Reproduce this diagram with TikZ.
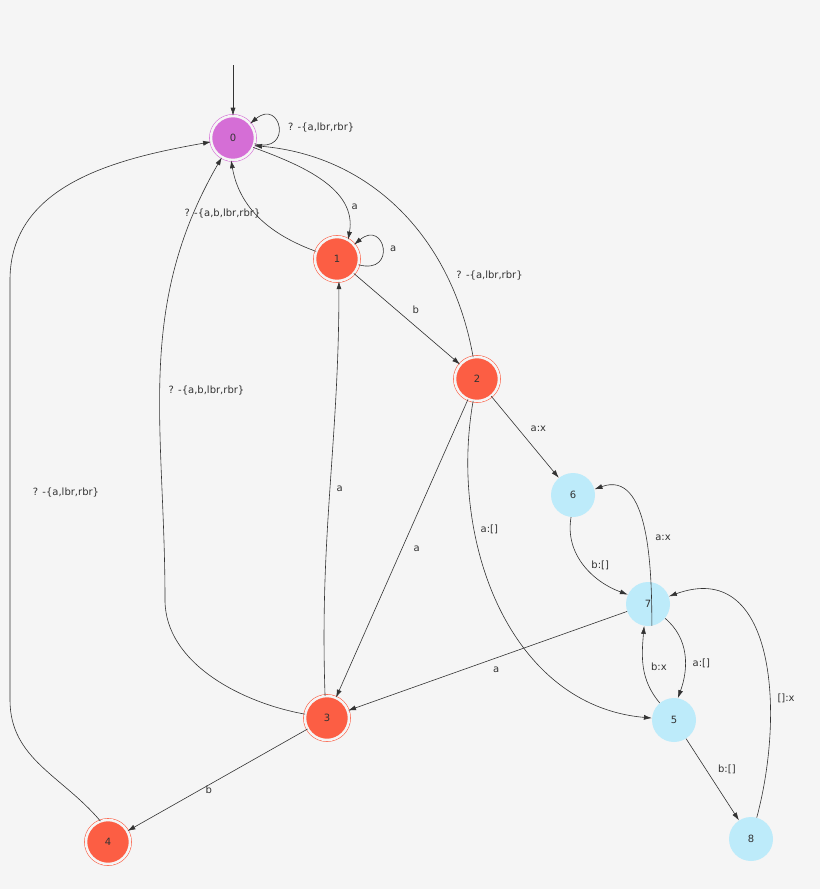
\documentclass[tikz,border=0pt]{standalone}
\usepackage{fontspec}
\setmainfont{DejaVu Sans}
\usetikzlibrary{arrows.meta}
\definecolor{bg}{HTML}{F5F5F5}
\definecolor{pink}{HTML}{D56ED6}
\definecolor{redn}{HTML}{FC5E44}
\definecolor{bluen}{HTML}{BDEBFA}
\definecolor{txt}{HTML}{333333}
\begin{document}
\begin{tikzpicture}[x=1pt,y=-1pt,
  st/.style={circle,minimum size=44pt,inner sep=0pt,text=txt,font=\fontsize{10}{12}\selectfont},
  acc/.style={st,double distance=2.5pt,draw=#1,fill=#1,double=bg,line width=0.6pt},
  plain/.style={st,fill=bluen},
  e/.style={draw=black!80,line width=0.6pt,-{Latex[length=8pt,width=5pt]}},
  lb/.style={text=txt,font=\fontsize{10}{12}\selectfont}]
\fill[bg] (0,0) rectangle (820,889);
\useasboundingbox (0,0) rectangle (820,889);
\node[acc=pink,minimum size=44pt] (n0) at (233,138) {0};
\node[acc=redn] (n1) at (337,259) {1};
\node[acc=redn] (n2) at (477,379) {2};
\node[acc=redn] (n3) at (327,718) {3};
\node[acc=redn] (n4) at (108,842) {4};
\node[plain] (n5) at (674,720) {5};
\node[plain] (n6) at (573,495) {6};
\node[plain] (n7) at (648,604) {7};
\node[plain] (n8) at (751,839) {8};
\coordinate (init) at (233,65);
\draw[e] (init) -- (n0);
\draw[e] (n0) to[out=-15,in=40,looseness=5] node[lb,right=6pt] {? -\{a,lbr,rbr\}} (n0);
\draw[e] (n0.-25) to[out=-20,in=80] node[lb,pos=0.75,right=4pt] {a} (n1.60);
\draw[e] (n1.160) to[out=160,in=-80] node[lb,pos=0.45,above left=0pt] {? -\{a,b,lbr,rbr\}} (n0.-95);
\draw[e] (n1) to[out=-15,in=40,looseness=5] node[lb,right=4pt] {a} (n1);
\draw[e] (n1) -- node[lb,above right=2pt] {b} (n2);
\draw[e] (n2.100) to[out=100,in=-5] node[lb,pos=0.25,right=6pt] {? -\{a,lbr,rbr\}} (n0.-20);
\draw[e] (n2) -- node[lb,above right=2pt] {a:x} (n6);
\draw[e] (n2) -- node[lb,right=8pt] {a} (n3);
\draw[e] (n2.-100) to[out=-100,in=175] node[lb,pos=0.3,right=3pt] {a:[]} (n5);
\draw[e] (n3.95) to[out=92,in=-90] node[lb,right=3pt] {a} (n1.-85);
\draw[e] (n3.170) to[out=170,in=-90,looseness=0.9] (165,600) to[out=90,in=-120] node[lb,pos=0.45,right=5pt] {? -\{a,b,lbr,rbr\}} (n0.-120);
\draw[e] (n3) -- node[lb,below left=2pt] {b} (n4);
\draw[e] (n4.110) to[out=130,in=-90] (10,700) -- (10,280) to[out=90,in=190] node[lb,pos=0] {} (n0.190);
\node[lb] at (66,493) {? -\{a,lbr,rbr\}};
\draw[e] (n6.-95) to[out=-100,in=160] node[lb,pos=0.5,right=4pt] {b:[]} (n7.155);
\draw[e] (n7.-80) to[out=90,in=20] node[lb,pos=0.45,right=6pt] {a:x} (n6.15);
\draw[e] (n7) -- node[lb,below right=2pt] {a} (n3);
\draw[e] (n7.-40) to[out=-40,in=70] node[lb,pos=0.6,right=4pt] {a:[]} (n5.80);
\draw[e] (n5.130) to[out=130,in=-95] node[lb,pos=0.5,right=4pt] {b:x} (n7.-100);
\draw[e] (n5) -- node[lb,above right=2pt] {b:[]} (n8);
\draw[e] (n8.75) to[out=75,in=20,looseness=1.2] node[lb,pos=0.35,right=4pt] {[]:x} (n7.20);
\end{tikzpicture}
\end{document}
